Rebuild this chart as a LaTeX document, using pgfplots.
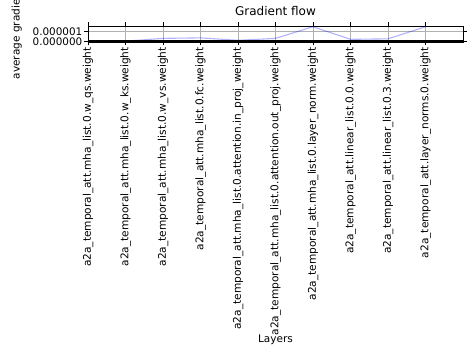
\documentclass[border=0pt]{standalone}
\usepackage{pgfplots}
\pgfplotsset{compat=1.18}
\usepackage{fontspec}
\setmainfont{DejaVu Sans}
\begin{document}
\begin{tikzpicture}
\begin{axis}[
  at={(88pt,-42pt)}, anchor=south west,
  width=375pt, height=16pt, scale only axis,
  xmin=0, xmax=10,
  ymin=-0.075e-6, ymax=1.575e-6,
  xtick={0,1,2,3,4,5,6,7,8,9},
  xticklabels={
    a2a\_temporal\_att.mha\_list.0.w\_qs.weight,
    a2a\_temporal\_att.mha\_list.0.w\_ks.weight,
    a2a\_temporal\_att.mha\_list.0.w\_vs.weight,
    a2a\_temporal\_att.mha\_list.0.fc.weight,
    a2a\_temporal\_att.mha\_list.0.attention.in\_proj\_weight,
    a2a\_temporal\_att.mha\_list.0.attention.out\_proj.weight,
    a2a\_temporal\_att.mha\_list.0.layer\_norm.weight,
    a2a\_temporal\_att.linear\_list.0.0.weight,
    a2a\_temporal\_att.linear\_list.0.3.weight,
    a2a\_temporal\_att.layer\_norms.0.weight},
  xticklabel style={rotate=90, anchor=east, font=\fontsize{10.6}{12}\selectfont, inner sep=1.5pt},
  ytick={0,1e-6},
  scaled y ticks=false,
  yticklabel style={/pgf/number format/fixed, /pgf/number format/precision=6,
    /pgf/number format/fixed zerofill, font=\fontsize{10.4}{12}\selectfont, inner sep=2pt},
  /pgf/number format/assume math mode=true,
  tick align=outside, major tick length=3.5pt,
  tick style={black, line width=0.6pt},
  grid=major, grid style={color=black!31, line width=0.6pt},
  axis line style={line width=0.8pt},
  title={Gradient flow},
  title style={at={(axis description cs:0.5,1)}, anchor=base, yshift=4pt, font=\fontsize{12}{14}\selectfont},
  xlabel={Layers},
  xlabel style={at={(axis description cs:0.5,0)}, anchor=base, yshift=-300pt, font=\fontsize{10.5}{12}\selectfont},
  ylabel={average gradient},
  ylabel style={at={(axis description cs:-0.19,0.5)}, rotate=0, anchor=center, yshift=0pt, font=\fontsize{10.5}{12}\selectfont},
]
\addplot[blue, opacity=0.3, line width=1.1pt, mark=none] coordinates {
  (0,0) (1,0.01e-6) (2,0.3e-6) (3,0.35e-6) (4,0.1e-6) (5,0.3e-6) (6,1.5e-6) (7,0.2e-6) (8,0.25e-6) (9,1.5e-6)
};
\addplot[black, line width=1.8pt, mark=none] coordinates {(0,0) (11,0)};
\end{axis}
\pgfresetboundingbox
\useasboundingbox (0,-355pt) rectangle (474pt,0);
\end{tikzpicture}
\end{document}
